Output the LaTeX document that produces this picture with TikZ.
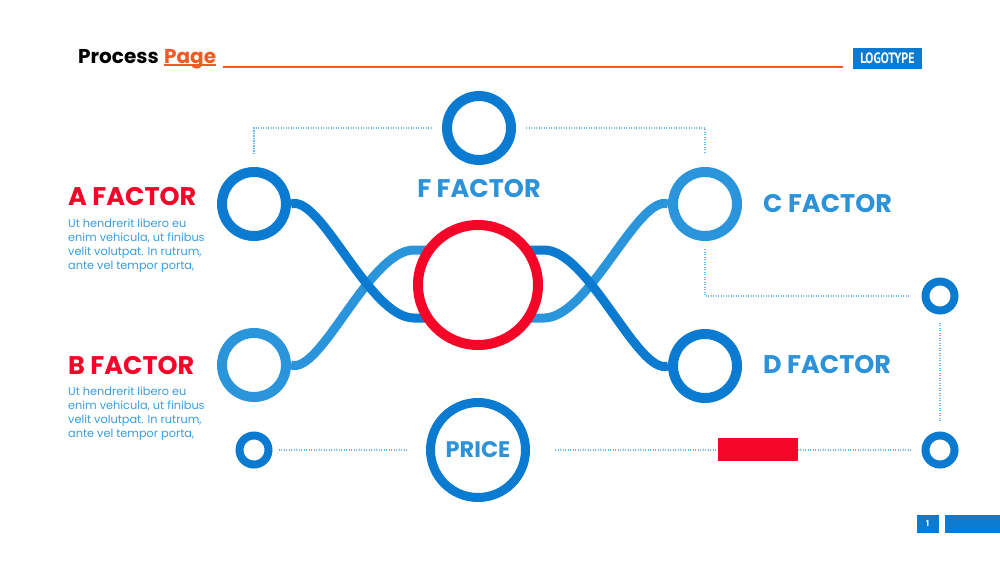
\documentclass[tikz,border=0pt]{standalone}
\usepackage{fontspec}
\setmainfont{Poppins}
\newfontfamily\logofont[FakeStretch=0.8]{PT Sans}
\usetikzlibrary{positioning}
\definecolor{darkblue}{RGB}{10,123,208}
\definecolor{lightblue}{RGB}{43,149,219}
\definecolor{textblue}{RGB}{44,147,218}
\definecolor{parablue}{RGB}{60,157,222}
\definecolor{dotblue}{RGB}{110,185,235}
\definecolor{hotred}{RGB}{245,5,40}
\definecolor{titleorange}{RGB}{241,90,36}
\pgfdeclarelayer{background}
\pgfsetlayers{background,main}

\begin{document}
\begin{tikzpicture}[x=1pt,y=-1pt]
\tikzset{ring/.style = {circle, draw, fill=white, inner sep=0pt, line width=10pt, minimum size=64pt},
	small/.style = {circle, draw=darkblue, fill=white, inner sep=0pt, line width=8pt, minimum size=29pt},
	strand/.style = {line width=9pt},
	dots/.style = {dotblue, line width=1.2pt, dash pattern=on 1.2pt off 1.3pt},
	heading/.style = {font=\bfseries\fontsize{25.5}{30}\selectfont, inner sep=0pt},
	para/.style = {parablue, font=\fontsize{11.3}{13.9}\selectfont, align=left, inner sep=0pt},
	titlefont/.style = {font=\bfseries\fontsize{20}{24}\selectfont, inner sep=0pt}}
\begin{pgfonlayer}{background}
\fill[white] (0,0) rectangle (1000,562);
\end{pgfonlayer}
\useasboundingbox (0,0) rectangle (1000,562);
            % header
	\node[titlefont, anchor=base west] (process) at (78,63) {Process};
	\node[titlefont, titleorange, anchor=base west] (page) at ([xshift=5]process.base east) {Page};
	\draw[titleorange, line width=2.5pt] ([yshift=-2]page.base west) -- ([yshift=-2]page.base east);
	\draw[titleorange, line width=2.5pt] (223,67) -- (843,67);
	\node[fill=darkblue, text=white, minimum width=69pt, minimum height=21pt, inner sep=0pt, font=\logofont\bfseries\fontsize{15}{15}\selectfont] (logo) at (887.5,58.5) {LOGOTYPE};
            % vertices
	\node[ring, draw=darkblue] (F) at (479,128) {};
	\node[ring, draw=darkblue] (A) at (254,204) {};
	\node[ring, draw=lightblue] (B) at (254,365) {};
	\node[ring, draw=lightblue] (C) at (705,204) {};
	\node[ring, draw=darkblue] (D) at (705,366) {};
	\node[ring, draw=hotred, minimum size=120pt] (hub) at (478,285) {};
	\node[ring, draw=darkblue, line width=9pt, minimum size=95pt, text=textblue, font=\bfseries\fontsize{22.5}{24}\selectfont] (price) at (478,450) {PRICE};
	\node[small] (s1) at (940,296) {};
	\node[small] (s2) at (940,450) {};
	\node[small] (s3) at (254,450) {};
	\node[fill=hotred, minimum width=80pt, minimum height=23pt, inner sep=0pt] (bar) at (758,449.5) {};
	\coordinate (hubNW) at ([yshift=35]hub.center);
	\coordinate (hubSW) at ([yshift=-33]hub.center);
	\coordinate (hubNE) at ([yshift=35]hub.center);
	\coordinate (hubSE) at ([yshift=-33]hub.center);
            % labels
	\node[heading, hotred, anchor=base west] (atitle) at (68,205) {A FACTOR};
	\node[para, anchor=north west] (atext) at ([yshift=-14]atitle.base west) {Ut hendrerit libero eu\\enim vehicula, ut finibus\\velit volutpat. In rutrum,\\ante vel tempor porta,};
	\node[heading, hotred, anchor=base west] (btitle) at (68,374) {B FACTOR};
	\node[para, anchor=north west] (btext) at ([yshift=-13]btitle.base west) {Ut hendrerit libero eu\\enim vehicula, ut finibus\\velit volutpat. In rutrum,\\ante vel tempor porta,};
	\node[heading, textblue, anchor=base] (ftitle) at (479,197) {F FACTOR};
	\node[heading, textblue, anchor=base west] (ctitle) at (763,212) {C FACTOR};
	\node[heading, textblue, anchor=base west] (dtitle) at (763,373) {D FACTOR};
            % page number
	\node[fill=darkblue, text=white, minimum width=22pt, minimum height=18pt, inner sep=0pt, font=\bfseries\fontsize{8}{8}\selectfont] (pnum) at (927.5,524) {1};
	\node[fill=darkblue, minimum width=56pt, minimum height=18pt, inner sep=0pt, right=6pt of pnum] (pbar) {};
            %edges
\begin{pgfonlayer}{background}
	\draw[dots] ([yshift=13]A.north) |- ([xshift=-10]F.west);
	\draw[dots] ([xshift=10]F.east) -| ([yshift=13]C.north);
	\draw[dots] ([yshift=-8]C.south) |- ([xshift=-12]s1.west);
	\draw[dots] ([yshift=-8]s1.south) -- ([yshift=10]s2.north);
	\draw[dots] ([xshift=6]s3.east) -- ([xshift=-18]price.west);
	\draw[dots] ([xshift=25]price.east) -- ([xshift=-9]s2.west);
	\draw[strand, lightblue] (B.east) .. controls +(30,10) and +(-45,0) .. ([xshift=-64]hubNW) -- (hubNW);
	\draw[strand, lightblue] (C.west) .. controls +(-30,-10) and +(45,0) .. ([xshift=66]hubSE) -- (hubSE);
	\draw[strand, darkblue] (A.east) .. controls +(30,-10) and +(-45,0) .. ([xshift=-64]hubSW) -- (hubSW);
	\draw[strand, darkblue] (D.west) .. controls +(-30,10) and +(45,0) .. ([xshift=66]hubNE) -- (hubNE);
\end{pgfonlayer}
\end{tikzpicture}
\end{document}
